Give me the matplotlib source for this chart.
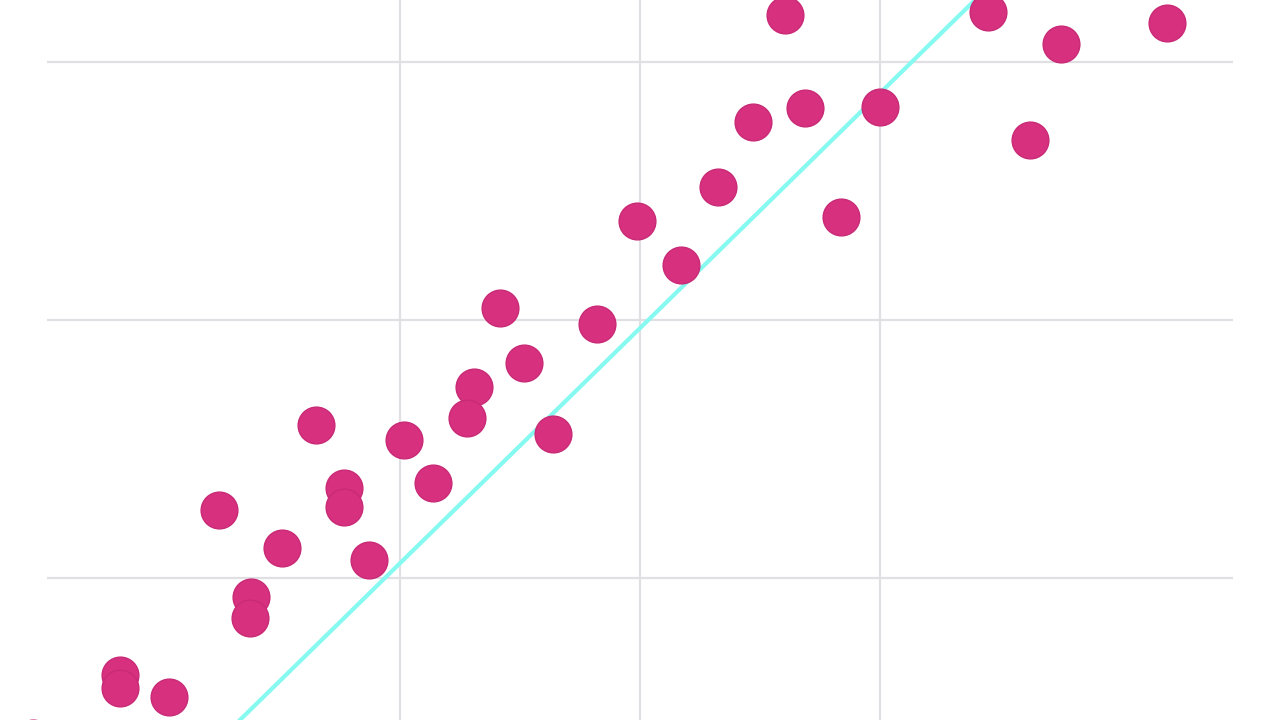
import matplotlib
matplotlib.use("Agg")
import matplotlib.pyplot as plt
import numpy as np

# Scatter data (data units)
x_vals = [56.04, 64.5, 67.54, 71.96, 66.25, 60.0, 56.875, 54.71, 53.25, 58.375,
          49.875, 51.71, 44.17, 48.21, 45.17, 43.08, 42.79, 46.375, 40.17, 41.375,
          36.5, 37.67, 37.67, 32.46, 35.08, 38.71, 33.79, 33.75, 28.33, 28.33,
          30.375, 24.71]
y_vals = [41.82, 41.94, 40.70, 41.51, 36.98, 38.26, 38.22, 37.67, 35.16, 33.99,
          33.84, 32.13, 30.47, 29.84, 28.33, 27.40, 26.20, 25.58, 25.35, 23.68,
          25.93, 23.49, 22.75, 22.64, 21.16, 20.70, 19.26, 18.45, 16.24, 15.74,
          15.39, 13.78]

# Fit line endpoints (data units)
line_x = [33.33, 63.96]
line_y = [14.496, 42.403]

x_ticks = [40, 50, 60]
y_ticks = [20, 30, 40]

fig = plt.figure(figsize=(12.8, 7.2), dpi=100)
ax = fig.add_axes([47/1280, 0, (1233-47)/1280, 1])
ax.set_xlim(25.29, 74.71)
ax.set_ylim(14.496, 42.403)

ax.set_xticks(x_ticks)
ax.set_yticks(y_ticks)
ax.grid(True, color="#E0E0E4", linewidth=1.6, zorder=0)
ax.tick_params(left=False, bottom=False, labelleft=False, labelbottom=False)
for s in ax.spines.values():
    s.set_visible(False)

ax.plot(line_x, line_y, color="#86F9F0", linewidth=3, zorder=2, clip_on=False)
ax.scatter(x_vals, y_vals, s=700, color="#D6307F", edgecolors="#C92A76",
           linewidths=1, zorder=3, clip_on=False)

fig.savefig("out.png", dpi=100)
